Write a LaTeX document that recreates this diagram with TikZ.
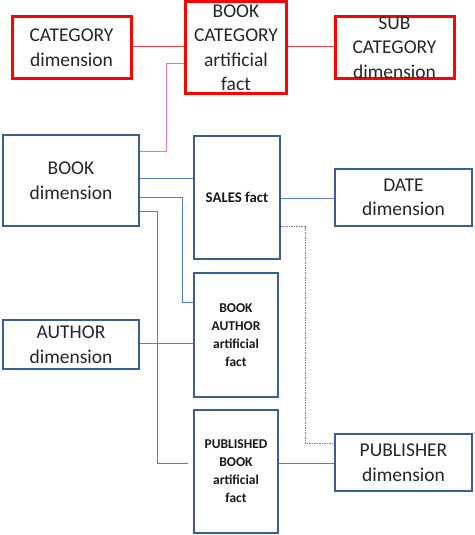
\documentclass[tikz,border=0pt]{standalone}
\usepackage{fontspec}
\setmainfont{Carlito}
\definecolor{boxblue}{HTML}{3B5E8E}
\definecolor{linkblue}{HTML}{5B80B8}
\definecolor{boxred}{HTML}{FF0000}
\definecolor{linkred}{HTML}{F04050}
\definecolor{linkpink}{HTML}{F2788A}
\definecolor{dotgray}{HTML}{6E7E9C}
\begin{document}
\begin{tikzpicture}[x=1pt,y=-1pt,
  bluebox/.style={draw=boxblue, line width=2pt, fill=white, inner sep=0pt},
  redbox/.style={draw=boxred, line width=3pt, fill=white, inner sep=0pt},
  bigtxt/.style={font=\fontsize{19.5pt}{24.5pt}\selectfont, align=center, text=black!85},
  smalltxt/.style={font=\fontsize{13.5pt}{18pt}\selectfont\bfseries, align=center, text=black!90},
  salestxt/.style={font=\fontsize{14.8pt}{18pt}\selectfont\bfseries, align=center, text=black!90},
  bluelink/.style={draw=linkblue, line width=1pt},
  redlink/.style={draw=linkred, line width=1pt},
  pinklink/.style={draw=linkpink, line width=1pt},
  dotlink/.style={draw=dotgray, line width=1pt, dash pattern=on 1.5pt off 1pt}]
\useasboundingbox (0,0) rectangle (474,535);

% red boxes
\node[redbox, minimum width=119pt, minimum height=61pt,
  label={[bigtxt]center:{CATEGORY\\dimension}}] (cat) at (71.5,47.5) {};
\node[redbox, minimum width=101pt, minimum height=91pt,
  label={[bigtxt]center:{BOOK\\CATEGORY\\artificial\\fact}}] (bcat) at (236,47.5) {};
\node[redbox, minimum width=119pt, minimum height=61pt,
  label={[bigtxt]center:{SUB\\CATEGORY\\dimension}}] (sub) at (394.5,47.5) {};

% blue boxes
\node[bluebox, minimum width=136pt, minimum height=91pt,
  label={[bigtxt]center:{BOOK\\dimension}}] (book) at (71,180.5) {};
\node[bluebox, minimum width=86pt, minimum height=123pt,
  label={[salestxt]center:{SALES fact}}] (sales) at (237,197.5) {};
\node[bluebox, minimum width=137pt, minimum height=57pt,
  label={[bigtxt]center:{DATE\\dimension}}] (date) at (403.5,197.5) {};
\node[bluebox, minimum width=136pt, minimum height=49pt,
  label={[bigtxt]center:{AUTHOR\\dimension}}] (author) at (71,344.5) {};
\node[bluebox, minimum width=84pt, minimum height=124pt,
  label={[smalltxt]center:{BOOK\\AUTHOR\\artificial\\fact}}] (bauth) at (236,335) {};
\node[bluebox, minimum width=84pt, minimum height=123pt,
  label={[smalltxt]center:{PUBLISHED\\BOOK\\artificial\\fact}}] (pub) at (236,471.5) {};
\node[bluebox, minimum width=137pt, minimum height=57pt,
  label={[bigtxt]center:{PUBLISHER\\dimension}}] (publ) at (403.5,462.5) {};

% connectors
\draw[redlink] (cat.east |- 0,47) -- (bcat.west |- 0,47);
\draw[redlink] (bcat.east |- 0,47) -- (sub.west |- 0,47);
\coordinate (rA) at (166,151);
\coordinate (rB) at (166,64);
\draw[pinklink] (book.east |- rA) -- (rA) -- (rB) -- (bcat.west |- rB);

\draw[bluelink] (book.east |- 0,178) -- (sales.west |- 0,178);
\coordinate (b1) at (182,197);
\coordinate (b2) at (182,302);
\draw[bluelink] (book.east |- b1) -- (b1) -- (b2) -- (bauth.west |- b2);
\coordinate (c1) at (157,211);
\coordinate (c2) at (157,463);
\coordinate (c3) at (188,463);
\draw[bluelink] (book.east |- c1) -- (c1) -- (c2) -- (c3);
\draw[bluelink] (author.east |- 0,343) -- (bauth.west |- 0,343);
\draw[bluelink] (sales.east |- 0,198) -- (date.west |- 0,198);
\draw[bluelink] (pub.east |- 0,463) -- (publ.west |- 0,463);
\coordinate (d1) at (305,226);
\coordinate (d2) at (305,443);
\draw[dotlink] (sales.east |- d1) -- (d1) -- (d2) -- (publ.west |- d2);
\end{tikzpicture}
\end{document}
